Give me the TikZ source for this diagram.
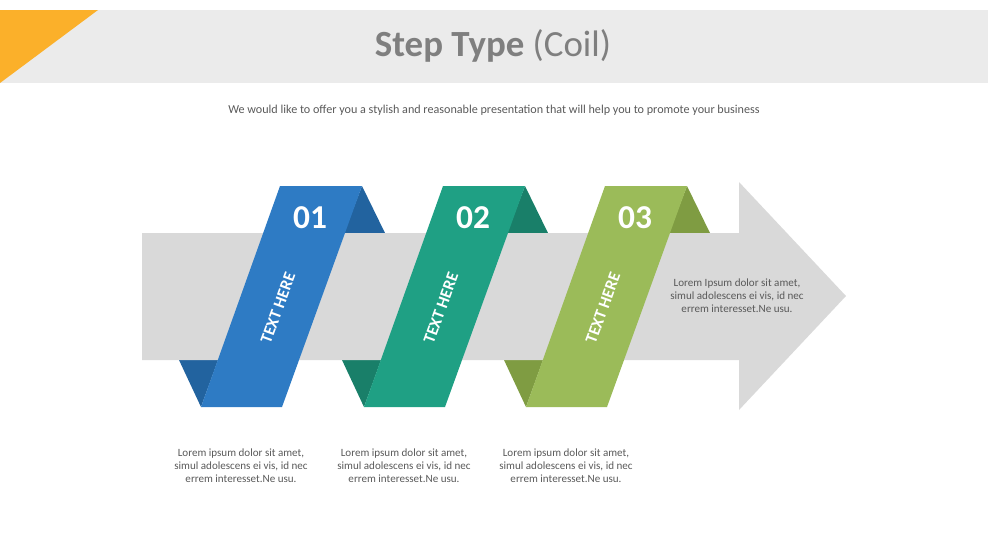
\documentclass[tikz,border=0pt]{standalone}
\usepackage{fontspec}
\setmainfont{Carlito}
\definecolor{bandgrey}{HTML}{EBEBEB}
\definecolor{arrowgrey}{HTML}{D9D9D9}
\definecolor{titlegrey}{HTML}{7F7F7F}
\definecolor{textgrey}{HTML}{595959}
\definecolor{accent}{HTML}{FBB02A}
\definecolor{blueA}{HTML}{2E7BC4}
\definecolor{blueB}{HTML}{22639F}
\definecolor{tealA}{HTML}{1FA084}
\definecolor{tealB}{HTML}{197F69}
\definecolor{greenA}{HTML}{9BBB59}
\definecolor{greenB}{HTML}{7F9C42}
\tikzset{
  body/.style={font=\fontsize{6.3}{7.4}\selectfont, text=textgrey, align=center},
  num/.style={font=\bfseries\fontsize{19}{20}\selectfont, text=white},
  label/.style={font=\bfseries\fontsize{9.5}{10}\selectfont, text=white, rotate=70, inner sep=0pt}
}
% one coil: back folds
\newcommand{\coilback}[2]{%
  \fill[#2] (#1+362,186) -- (#1+385,233) -- (#1+344,233) -- cycle;
  \fill[#2] (#1+179,360) -- (#1+218,360) -- (#1+201,407) -- cycle;}
\begin{document}
\begin{tikzpicture}[x=0.02cm, y=-0.02cm]
  \useasboundingbox (0,0) rectangle (988,556);
  % title band
  \fill[bandgrey] (0,10) rectangle (988,83);
  \fill[accent] (0,10) -- (98,10) -- (0,83) -- cycle;
  \node[text=titlegrey, font=\fontsize{21}{24}\selectfont] (title) at (493,46)
    {\textbf{Step Type} (Coil)};
  \node[text=textgrey, font=\fontsize{6.9}{8}\selectfont] (sub) at (494,110)
    {We would like to offer you a stylish and reasonable presentation that will help you to promote your business};
  % back folds
  \coilback{0}{blueB}
  \coilback{163}{tealB}
  \coilback{325}{greenB}
  % big arrow
  \fill[arrowgrey] (142,233) -- (739,233) -- (739,182) -- (846,296)
    -- (739,410) -- (739,360) -- (142,360) -- cycle;
  % front bands
  \foreach \dx/\col/\n in {0/blueA/01, 163/tealA/02, 325/greenA/03} {
    \fill[\col] (\dx+280,186) -- (\dx+362,186) -- (\dx+282,407) -- (\dx+201,407) -- cycle;
    \node[num] (num\n) at (\dx+310,218) {\n};
    \node[label] (lab\n) at (\dx+278,308) {TEXT HERE};
    \node[body] (desc\n) at (\dx+241,466)
      {Lorem ipsum dolor sit amet,\\simul adolescens ei vis, id nec\\errem interesset.Ne usu.};
  }
  \node[body] (descR) at (737,296)
    {Lorem Ipsum dolor sit amet,\\simul adolescens ei vis, id nec\\errem interesset.Ne usu.};
\end{tikzpicture}
\end{document}
